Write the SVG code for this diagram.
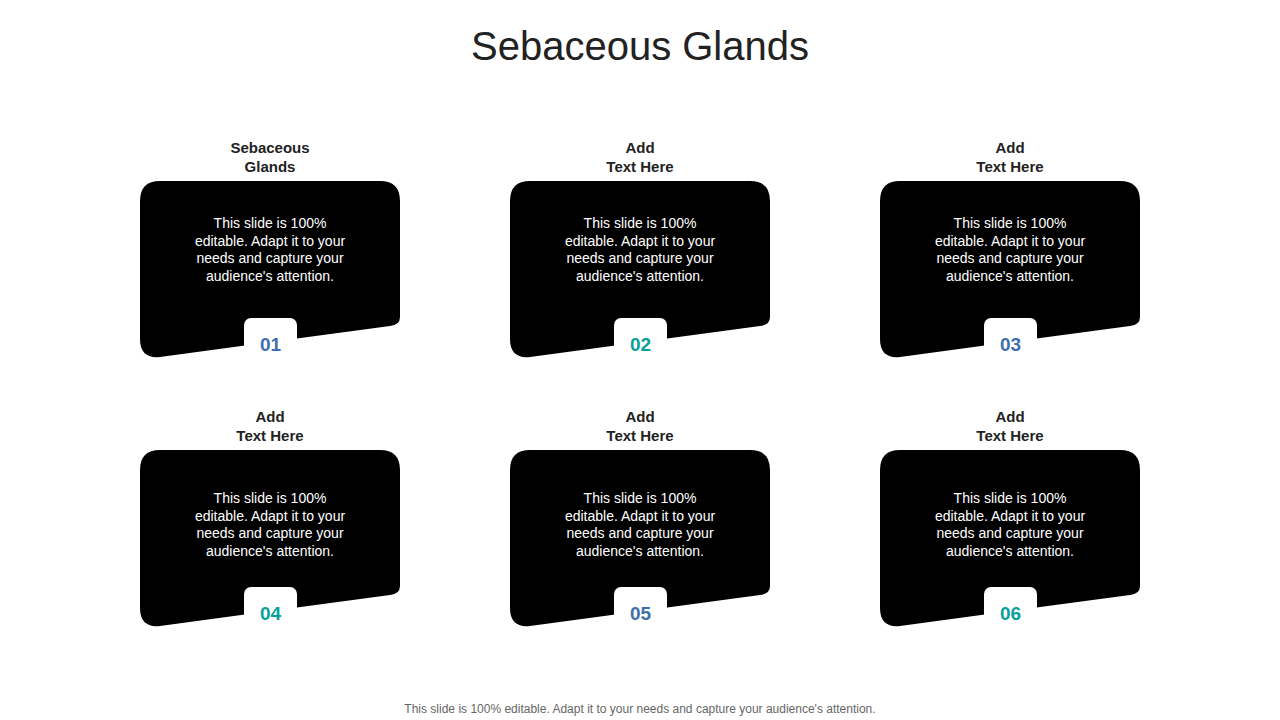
<svg xmlns="http://www.w3.org/2000/svg" width="1280" height="720" viewBox="0 0 1280 720">
<style>
.t{font-family:"Liberation Sans",Arial,sans-serif;text-anchor:middle}
.h{font-size:15px;font-weight:bold;fill:#222}
.b{font-size:14px;fill:#fff}
.n{font-size:19px;font-weight:bold}
.blue .f{fill:#3F6FAA}.blue .o{stroke:#C9D9EF}.blue .bx{stroke:#3F6FAA}.blue .n{fill:#3F6FAA}
.teal .f{fill:#08A09A}.teal .o{stroke:#7FE6E2}.teal .bx{stroke:#08A09A}.teal .n{fill:#08A09A}
.o{fill:none;stroke-width:1.2}
.bx{fill:#fff;stroke-width:1}
</style>
<defs>
<g id="card">
<path class="f" d="M20,0 H240 Q260,0 260,20 V136 Q260,144 250,145 L20,176 Q0,178 0,158 V20 Q0,0 20,0 Z"/>
<path class="o" d="M32,12 H230 Q250,12 250,32 V157 Q250,177 230,175 L24,146 Q12,144 12,134 V32 Q12,12 32,12 Z"/>
<rect class="bx" x="104" y="137" width="53" height="53" rx="7"/>
</g>
</defs>
<rect width="1280" height="720" fill="#fff"/>
<text class="t" x="640" y="60" font-size="40" fill="#222">Sebaceous Glands</text>
<g id="node1" class="blue" transform="translate(140,181)"><use href="#card"/>
<text class="t h" x="130" y="-28">Sebaceous</text><text class="t h" x="130" y="-9">Glands</text>
<text class="t b" x="130" y="47">This slide is 100%</text><text class="t b" x="130" y="65">editable. Adapt it to your</text><text class="t b" x="130" y="82">needs and capture your</text><text class="t b" x="130" y="100">audience's attention.</text>
<text class="t n" x="130.5" y="170">01</text></g>
<g id="node2" class="teal" transform="translate(510,181)"><use href="#card"/>
<text class="t h" x="130" y="-28">Add</text><text class="t h" x="130" y="-9">Text Here</text>
<text class="t b" x="130" y="47">This slide is 100%</text><text class="t b" x="130" y="65">editable. Adapt it to your</text><text class="t b" x="130" y="82">needs and capture your</text><text class="t b" x="130" y="100">audience's attention.</text>
<text class="t n" x="130.5" y="170">02</text></g>
<g id="node3" class="blue" transform="translate(880,181)"><use href="#card"/>
<text class="t h" x="130" y="-28">Add</text><text class="t h" x="130" y="-9">Text Here</text>
<text class="t b" x="130" y="47">This slide is 100%</text><text class="t b" x="130" y="65">editable. Adapt it to your</text><text class="t b" x="130" y="82">needs and capture your</text><text class="t b" x="130" y="100">audience's attention.</text>
<text class="t n" x="130.5" y="170">03</text></g>
<g id="node4" class="teal" transform="translate(140,450)"><use href="#card"/>
<text class="t h" x="130" y="-28">Add</text><text class="t h" x="130" y="-9">Text Here</text>
<text class="t b" x="130" y="53">This slide is 100%</text><text class="t b" x="130" y="71">editable. Adapt it to your</text><text class="t b" x="130" y="88">needs and capture your</text><text class="t b" x="130" y="106">audience's attention.</text>
<text class="t n" x="130.5" y="170">04</text></g>
<g id="node5" class="blue" transform="translate(510,450)"><use href="#card"/>
<text class="t h" x="130" y="-28">Add</text><text class="t h" x="130" y="-9">Text Here</text>
<text class="t b" x="130" y="53">This slide is 100%</text><text class="t b" x="130" y="71">editable. Adapt it to your</text><text class="t b" x="130" y="88">needs and capture your</text><text class="t b" x="130" y="106">audience's attention.</text>
<text class="t n" x="130.5" y="170">05</text></g>
<g id="node6" class="teal" transform="translate(880,450)"><use href="#card"/>
<text class="t h" x="130" y="-28">Add</text><text class="t h" x="130" y="-9">Text Here</text>
<text class="t b" x="130" y="53">This slide is 100%</text><text class="t b" x="130" y="71">editable. Adapt it to your</text><text class="t b" x="130" y="88">needs and capture your</text><text class="t b" x="130" y="106">audience's attention.</text>
<text class="t n" x="130.5" y="170">06</text></g>
<g id="connectors"/>
<text class="t" x="640" y="713" font-size="12" fill="#666">This slide is 100% editable. Adapt it to your needs and capture your audience's attention.</text>
</svg>
